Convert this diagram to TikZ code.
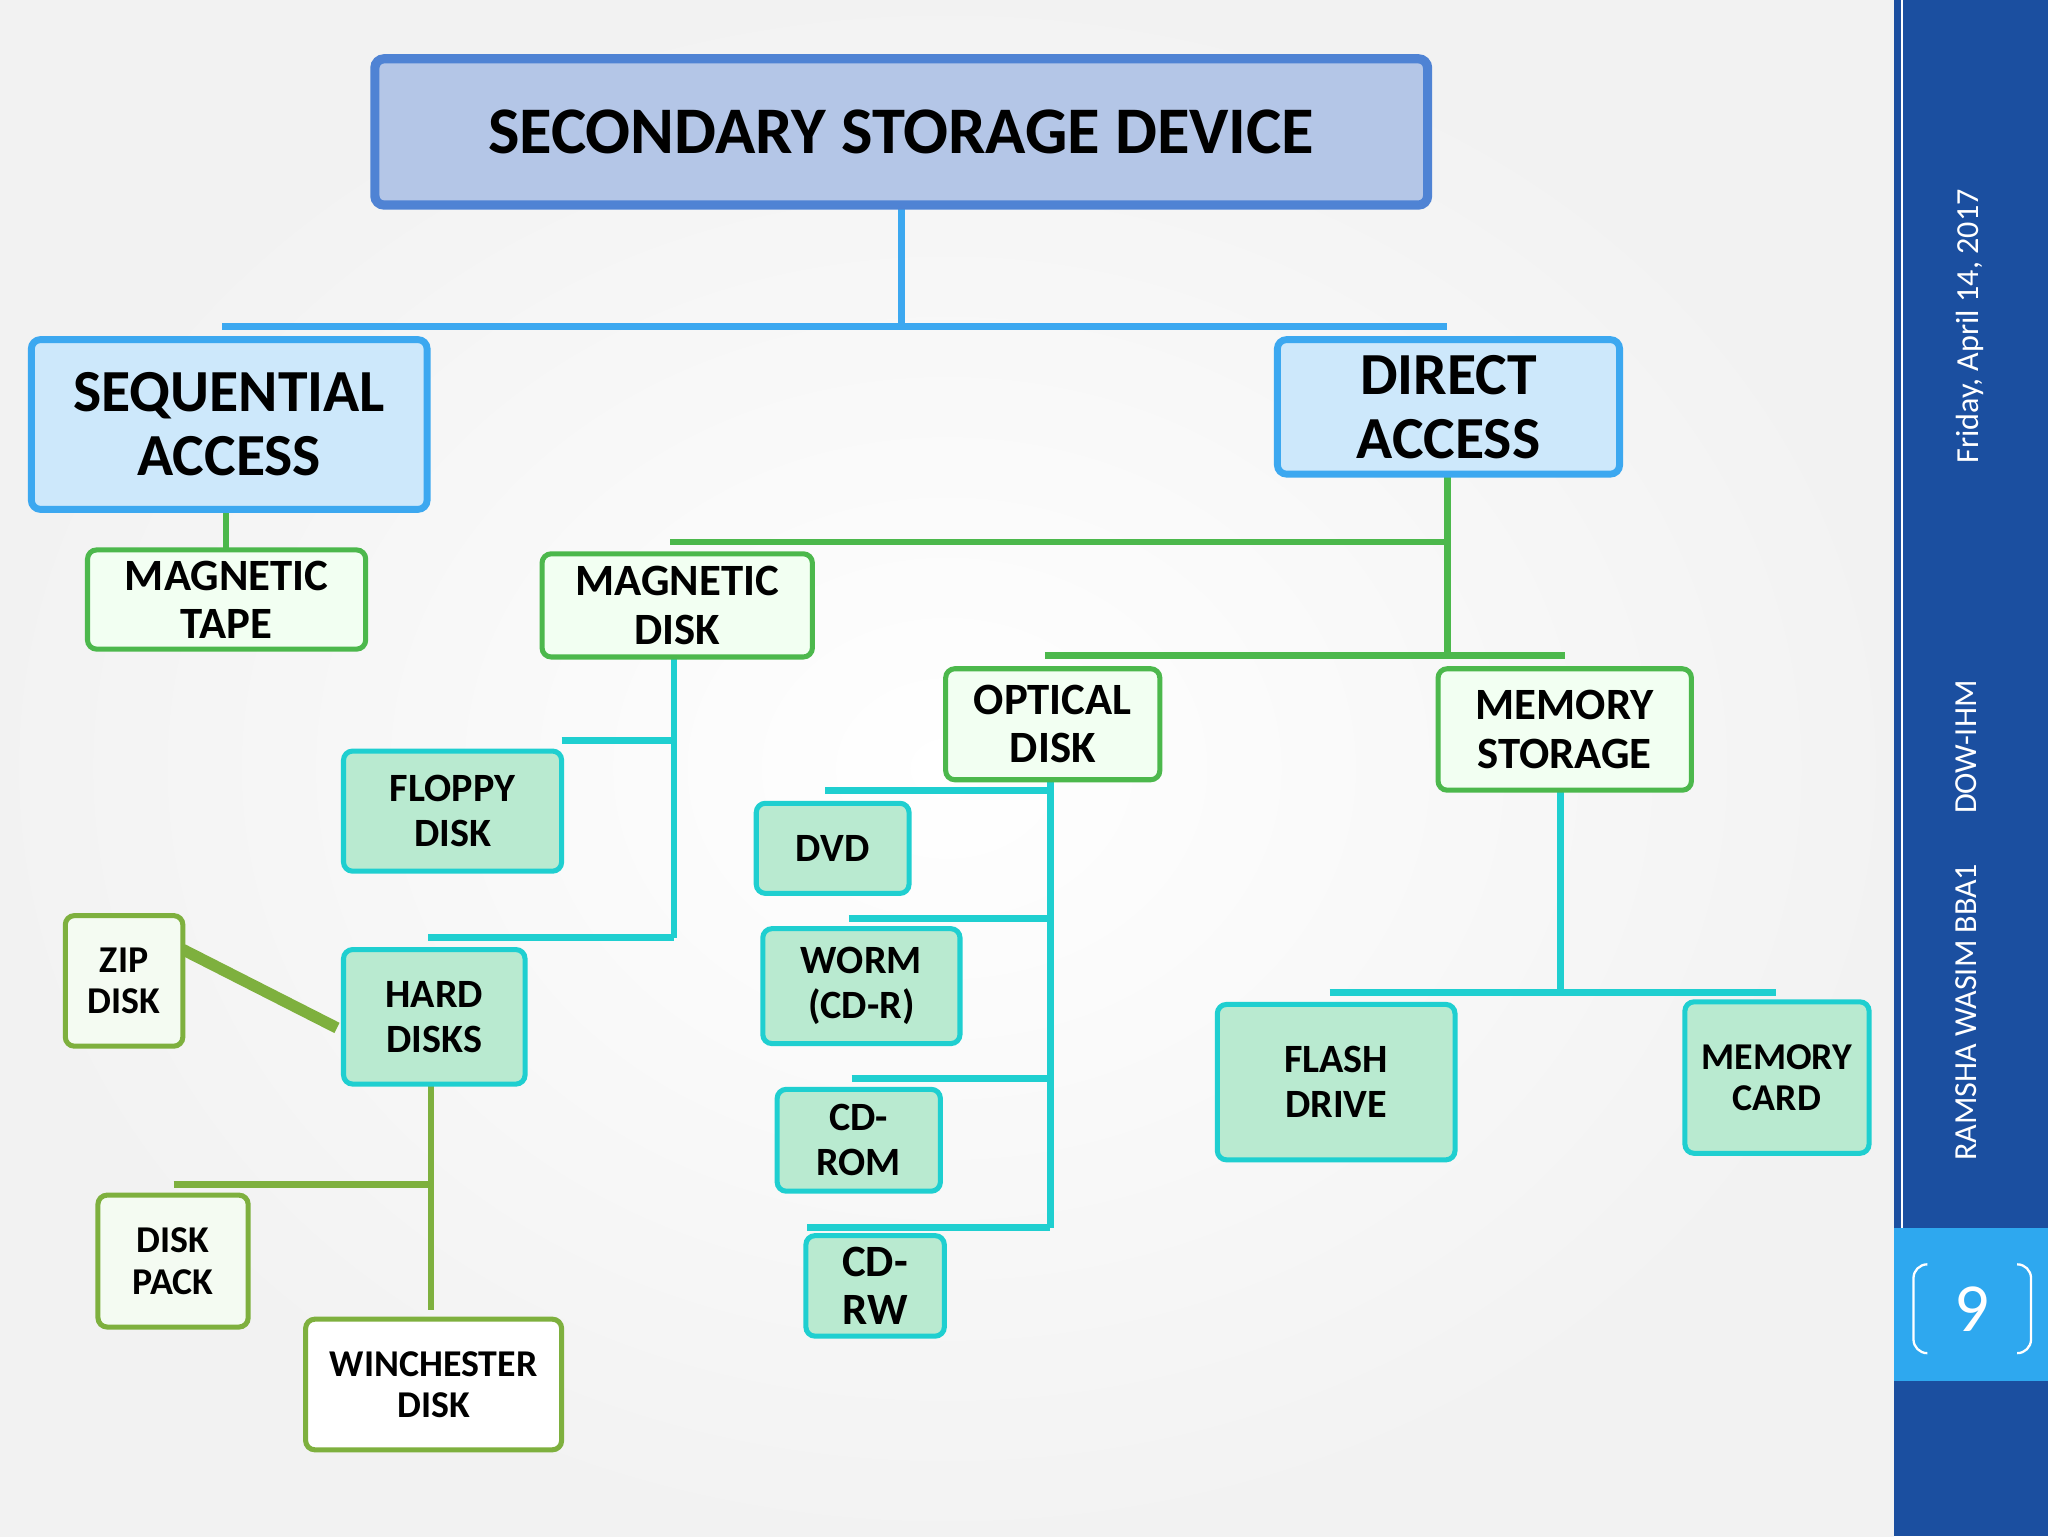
\documentclass[tikz,border=0pt]{standalone}
\usepackage{fontspec}
\setmainfont{Carlito}
\definecolor{titlef}{HTML}{B4C6E7}
\definecolor{titled}{HTML}{4F83D4}
\definecolor{accf}{HTML}{CDE8FB}
\definecolor{accd}{HTML}{3CA8F0}
\definecolor{cyf}{HTML}{B9EAD0}
\definecolor{cyd}{HTML}{1FCFD0}
\definecolor{side}{HTML}{1B4FA0}
\definecolor{sidebox}{HTML}{2EA8EF}
\begin{document}
\begin{tikzpicture}[x=0.2mm,y=-0.2mm,
 box/.style={draw,rounded corners=4pt,line width=2.2pt,align=center,font=\bfseries,inner sep=0pt},
 blue/.style={fill=accf,draw=accd},
 grn/.style={fill=green!5,draw=green!60!black!70},
 cy/.style={fill=cyf,draw=cyd},
 yg/.style={fill=yellow!10!green!5,draw=yellow!50!green!80!black},
 lb/.style={line width=3pt,draw=accd},
 lg/.style={line width=3pt,draw=green!60!black!70},
 lc/.style={line width=3pt,draw=cyd},
 ly/.style={line width=3pt,draw=yellow!50!green!80!black}]
\useasboundingbox (0,0) rectangle (1568,1176);
\shade[inner color=white,outer color=gray!10] (0,0) rectangle (1450,1176);
\fill[side] (1450,0) rectangle (1568,1176);
\draw[white,line width=1pt] (1456,0) -- (1456,940);
\fill[sidebox] (1450,940) rectangle (1568,1057);
\node[white,font=\fontsize{30}{30}\selectfont] (pg) at (1510,1002) {9};
\draw[white,line width=1pt,rounded corners=6pt] (1475,968) -- (1465,968) -- (1465,1036) -- (1475,1036);
\draw[white,line width=1pt,rounded corners=6pt] (1545,968) -- (1555,968) -- (1555,1036) -- (1545,1036);
\node[white,rotate=90,font=\fontsize{14}{14}\selectfont] (dt) at (1508,250) {Friday, April 14, 2017};
\node[white,rotate=90,font=\fontsize{14}{14}\selectfont] (dw) at (1505,572) {DOW-IHM};
\node[white,rotate=90,font=\fontsize{14}{14}\selectfont] (rw) at (1505,775) {RAMSHA WASIM BBA1};
% connectors
\coordinate (j0) at (690,250);
\draw[lb] (690,157) -- (j0);
\draw[lb] (170,250) -- (1108,250);
\draw[lg] (173,390) -- (173,421);
\draw[lg] (1108,363) -- (1108,502);
\draw[lg] (513,415) -- (1108,415);
\draw[lg] (800,502) -- (1198,502);
\draw[lc] (516,503) -- (516,718);
\draw[lc] (430,567) -- (516,567);
\draw[lc] (328,718) -- (516,718);
\draw[ly] (330,830) -- (330,1003);
\draw[ly] (133,907) -- (330,907);
\draw[line width=5pt,draw=yellow!50!green!80!black] (140,727) -- (258,787);
\draw[lc] (804,597) -- (804,940);
\draw[lc] (632,605) -- (804,605);
\draw[lc] (650,703) -- (804,703);
\draw[lc] (652,826) -- (804,826);
\draw[lc] (618,940) -- (804,940);
\draw[lc] (1195,605) -- (1195,760);
\draw[lc] (1018,760) -- (1360,760);
% nodes
\node[box,fill=titlef,draw=titled,line width=4pt,minimum width=161.2mm,minimum height=22.4mm,font=\bfseries\fontsize{29}{32}\selectfont] (t) at (690,101) {SECONDARY STORAGE DEVICE};
\node[box,blue,line width=3pt,minimum width=60.6mm,minimum height=26mm,font=\bfseries\fontsize{26}{28}\selectfont] (sa) at (175.5,325) {SEQUENTIAL\\ACCESS};
\node[box,blue,line width=3pt,minimum width=52.4mm,minimum height=20.6mm,font=\bfseries\fontsize{26}{28}\selectfont] (da) at (1109,311.5) {DIRECT\\ACCESS};
\node[box,grn,minimum width=42.6mm,minimum height=15.2mm,font=\bfseries\fontsize{19.5}{21}\selectfont] (mt) at (173.5,459) {MAGNETIC\\TAPE};
\node[box,grn,minimum width=41.4mm,minimum height=15.8mm,font=\bfseries\fontsize{19.5}{21}\selectfont] (md) at (518.5,463.5) {MAGNETIC\\DISK};
\node[box,grn,minimum width=32.8mm,minimum height=17mm,font=\bfseries\fontsize{19.5}{21}\selectfont] (od) at (806,554.5) {OPTICAL\\DISK};
\node[box,grn,minimum width=38.8mm,minimum height=18.6mm,font=\bfseries\fontsize{19.5}{21}\selectfont] (ms) at (1198,558.5) {MEMORY\\STORAGE};
\node[box,cy,minimum width=33.4mm,minimum height=18.4mm,font=\bfseries\fontsize{17.5}{19.5}\selectfont] (fd) at (346.5,621) {FLOPPY\\DISK};
\node[box,cy,minimum width=27.8mm,minimum height=20.6mm,font=\bfseries\fontsize{17.5}{19.5}\selectfont] (hd) at (332.5,778.5) {HARD\\DISKS};
\node[box,yg,minimum width=18mm,minimum height=20mm,font=\bfseries\fontsize{16.5}{18}\selectfont] (zd) at (95,751) {ZIP\\DISK};
\node[box,yg,minimum width=23mm,minimum height=20.2mm,font=\bfseries\fontsize{16.5}{18}\selectfont] (dp) at (132.5,965.5) {DISK\\PACK};
\node[box,fill=white,draw=yellow!50!green!80!black,minimum width=39.2mm,minimum height=20mm,font=\bfseries\fontsize{16.5}{18}\selectfont] (wd) at (332,1060) {WINCHESTER\\DISK};
\node[box,cy,minimum width=23.4mm,minimum height=13.8mm,font=\bfseries\fontsize{17.5}{19.5}\selectfont] (dvd) at (637.5,649.5) {DVD};
\node[box,cy,minimum width=30.2mm,minimum height=17.6mm,font=\bfseries\fontsize{17.5}{19.5}\selectfont] (wm) at (659.5,755) {WORM\\(CD-R)};
\node[box,cy,minimum width=25mm,minimum height=15.6mm,font=\bfseries\fontsize{17.5}{19.5}\selectfont] (cr) at (657.5,873) {CD-\\ROM};
\node[box,cy,minimum width=21.2mm,minimum height=15.4mm,font=\bfseries\fontsize{19.5}{21}\selectfont] (rw2) at (670,984.5) {CD-\\RW};
\node[box,cy,minimum width=36.4mm,minimum height=23.8mm,font=\bfseries\fontsize{17.5}{19.5}\selectfont] (fl) at (1023,828.5) {FLASH\\DRIVE};
\node[box,cy,minimum width=28.2mm,minimum height=23.2mm,font=\bfseries\fontsize{16.5}{18}\selectfont] (mc) at (1360.5,825) {MEMORY\\CARD};
\end{tikzpicture}
\end{document}
